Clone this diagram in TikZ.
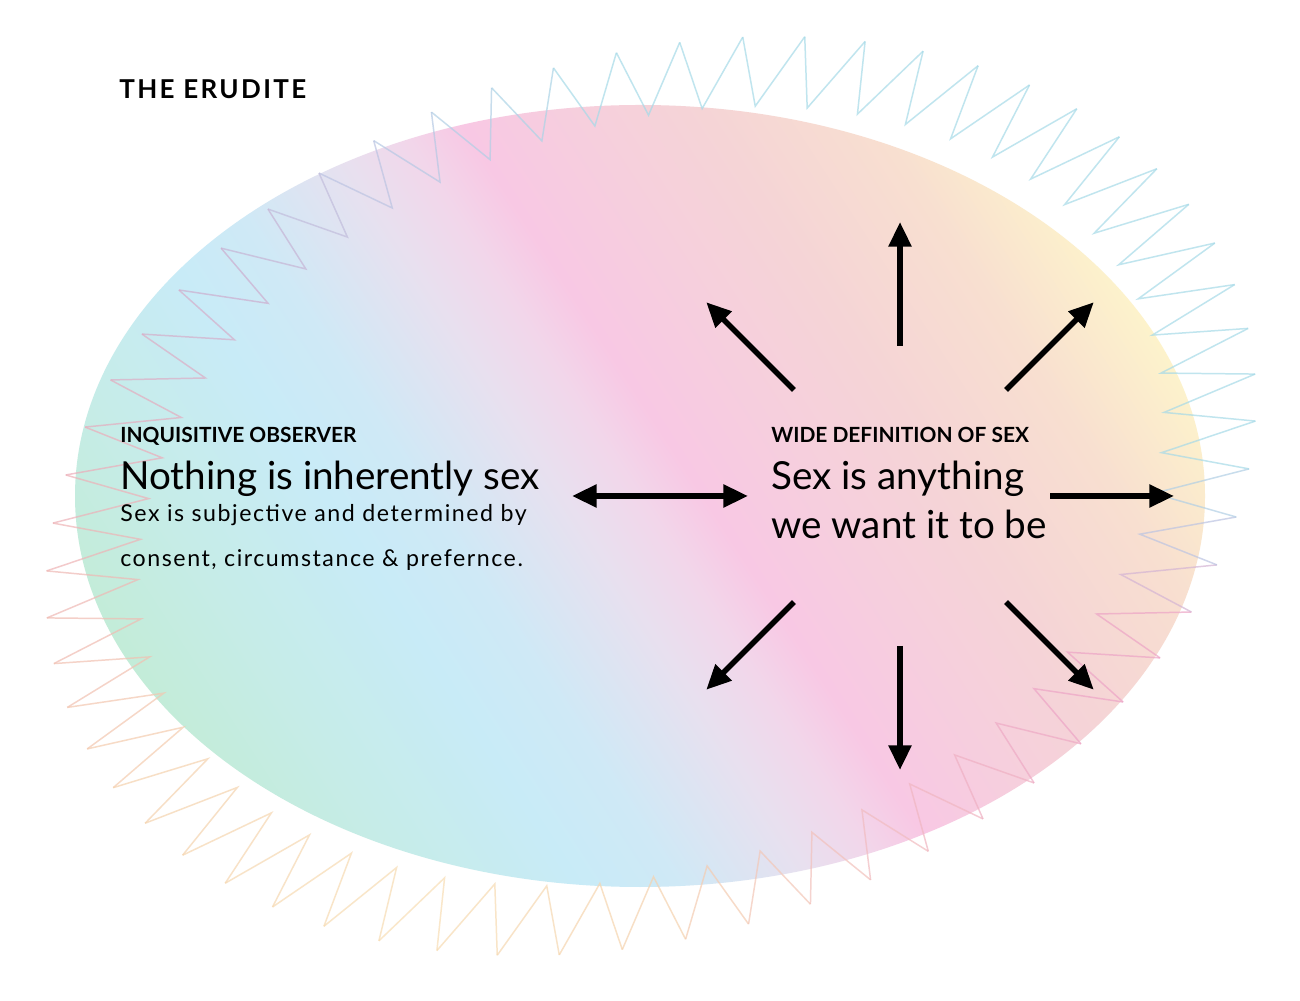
\documentclass[tikz,border=0pt]{standalone}
\usepackage{fontspec}
\setmainfont{Lato}
\newfontfamily\trackedfont{Lato}[LetterSpace=6.6]
\newfontfamily\titlefont{Lato}[LetterSpace=9]
\usetikzlibrary{arrows.meta}

\definecolor{blobmint}{HTML}{C3ECD7}
\definecolor{blobmintcyan}{HTML}{C6ECE8}
\definecolor{blobcyan}{HTML}{C8EBF7}
\definecolor{blobcyanlight}{HTML}{CFE9F6}
\definecolor{bloblav}{HTML}{E8E0EF}
\definecolor{bloblavpink}{HTML}{F2D6EA}
\definecolor{blobpink}{HTML}{F8C8E4}
\definecolor{blobpinkpeach}{HTML}{F6CFDD}
\definecolor{blobpeach}{HTML}{F5D4D6}
\definecolor{blobpeachy}{HTML}{F8DFD0}
\definecolor{blobyellow}{HTML}{FDF4CB}

\definecolor{zigcyan}{HTML}{A6DAE8}
\definecolor{ziglav}{HTML}{BCC4E2}
\definecolor{zigmauve}{HTML}{CDAECF}
\definecolor{zigsalmon}{HTML}{ECADBA}
\definecolor{zigsalpeach}{HTML}{F0BCB2}
\definecolor{zigpeach}{HTML}{F5D2AE}
\definecolor{zigorange}{HTML}{F8DEB4}
\definecolor{zigpeachpink}{HTML}{F1BCC0}
\definecolor{zigpink}{HTML}{EDA4C6}

\pgfdeclarehorizontalshading{eruditefill}{100bp}{%
  color(0bp)=(blobmint); color(27.1bp)=(blobmint);
  color(32.6bp)=(blobmintcyan); color(38.5bp)=(blobcyan);
  color(42.2bp)=(blobcyanlight); color(47.2bp)=(bloblav);
  color(50bp)=(bloblavpink); color(52.3bp)=(blobpink);
  color(56.9bp)=(blobpinkpeach); color(61.4bp)=(blobpeach);
  color(67.4bp)=(blobpeachy); color(72.9bp)=(blobyellow);
  color(100bp)=(blobyellow)}

\begin{document}
\begin{tikzpicture}[x=0.02cm, y=0.02cm,
    >={Triangle[length=14pt, width=12.5pt]},
    spoke/.style={->, line width=3.1pt, black},
    zig/.style={line width=0.85pt, opacity=0.7, line join=miter},
    titletext/.style={anchor=base west, inner sep=0pt, font=\titlefont\bfseries\fontsize{14.8}{18}\selectfont},
    headcaps/.style={anchor=base west, inner sep=0pt, font=\bfseries\fontsize{11.9}{14}\selectfont},
    bigline/.style={anchor=base west, inner sep=0pt, font=\fontsize{22}{26}\selectfont},
    smallline/.style={anchor=base west, inner sep=0pt, font=\trackedfont\fontsize{13.2}{15}\selectfont}]
    \useasboundingbox (0,0) rectangle (1300,1000);
    \fill[white] (0,0) rectangle (1300,1000);

    % soft blob
    \begin{scope}
        \clip (640,504) ellipse [x radius=565, y radius=391];
        \shade[shading=eruditefill, shading angle=33] (60,-76) rectangle (1220,1084);
    \end{scope}

    % zigzag ring
    \begin{scope}[shift={(651,504)}, rotate=18.5]
        \foreach \ka/\kb/\ca/\cb [evaluate=\kb as \kend using int(\kb-1)] in
                {0/13/zigcyan/zigcyan, 13/17/zigcyan/ziglav,
                17/20/ziglav/zigmauve, 20/24/zigmauve/zigsalmon, 24/28/zigsalmon/zigsalpeach,
                28/32/zigsalpeach/zigpeach, 32/38/zigpeach/zigorange, 38/42/zigorange/zigpeach,
                42/46/zigpeach/zigpeachpink, 46/50/zigpeachpink/zigpink, 50/52/zigpink/zigpink,
                52/54/zigpink/ziglav, 54/56/ziglav/zigcyan, 56/60/zigcyan/zigcyan}
            \foreach \k in {\ka,...,\kend} {
                \pgfmathtruncatemacro\mixp{100*(\k-\ka)/(\kb-\ka)}
                \pgfmathsetmacro\ta{2+6*\k}
                \pgfmathsetmacro\tb{\ta+3}
                \pgfmathsetmacro\tc{\ta+6}
                \draw[zig, color=\cb!\mixp!\ca] (\ta:621 and 438) -- (\tb:526.6 and 371.4) -- (\tc:621 and 438);
            }
    \end{scope}

    \node[titletext] (title) at (119,901) {THE ERUDITE};

    \node[headcaps] (lefthead) at (120,557) {INQUISITIVE OBSERVER};
    \node[bigline] (leftclaim) at (120,510) {Nothing is inherently sex};
    \node[smallline] (leftnote1) at (120,478) {Sex is subjective and determined by};
    \node[smallline] (leftnote2) at (120,433) {consent, circumstance \& prefernce.};

    \node[headcaps] (righthead) at (771,557) {WIDE DEFINITION OF SEX};
    \node[bigline] (rightclaim1) at (771,510) {Sex is anything};
    \node[bigline] (rightclaim2) at (771,461) {we want it to be};

    % arrows out of the wide definition
    \coordinate (hub) at (900,504);
    \foreach \a in {0,45,90,135,225,270,315} {
        \coordinate (spokein\a) at ([shift={(\a:150)}]hub);
        \coordinate (spokeout\a) at ([shift={(\a:274)}]hub);
        \draw[spoke] (spokein\a) -- (spokeout\a);
    }
    \coordinate (linkL) at (572,504);
    \coordinate (linkR) at ([shift={(180:152)}]hub);
    \draw[spoke, <->] (linkL) -- (linkR);
\end{tikzpicture}
\end{document}
